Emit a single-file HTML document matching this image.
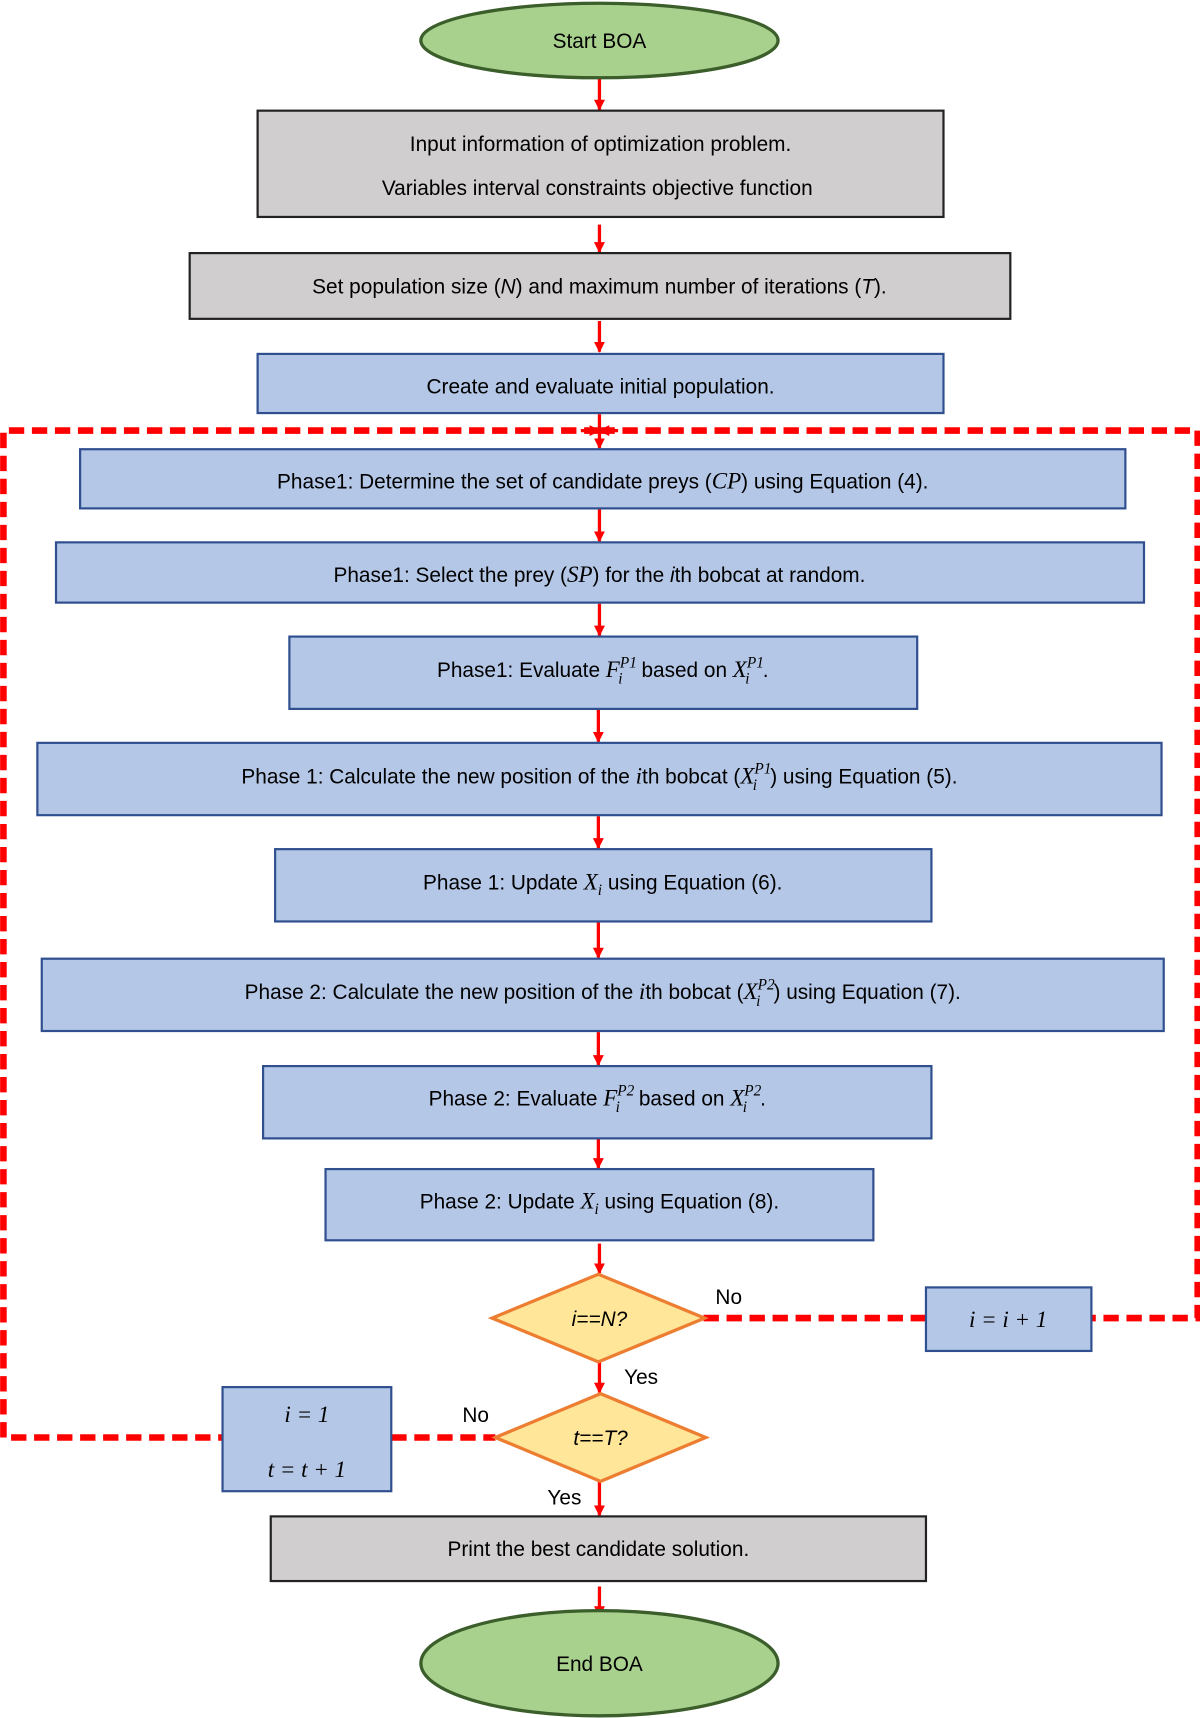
<!DOCTYPE html>
<html><head><meta charset="utf-8"><style>
html,body{margin:0;padding:0;background:#fff;}
svg{display:block;}
text{font-family:"Liberation Sans",sans-serif;font-size:19px;fill:#000;}
.m{font-family:"Liberation Serif",serif;font-style:italic;font-size:21px;}
.s{font-family:"Liberation Serif",serif;font-style:italic;font-size:14px;}
</style></head><body>
<svg width="1200" height="1718" viewBox="0 0 1095 1568" xmlns="http://www.w3.org/2000/svg">
<defs>
<marker id="a" markerWidth="10" markerHeight="10" refX="9" refY="5" orient="auto" markerUnits="userSpaceOnUse">
<path d="M0,0 L10,5 L0,10 z" fill="#f00"/></marker>
</defs>
<!-- dashed loop -->
<g stroke="#f00" stroke-width="6" fill="none" stroke-dasharray="14,7">
<path d="M547,393 H3 V1312 H203"/>
<path d="M357,1312 H452"/>
<path d="M547,393 H1093 V1203 H997"/>
<path d="M845,1203 H640"/>
</g>
<path d="M530,393 L547,393" stroke="#f00" stroke-width="3" marker-end="url(#a)"/>
<path d="M564,393 L547,393" stroke="#f00" stroke-width="3" marker-end="url(#a)"/>
<!-- solid arrows -->
<g stroke="#f00" stroke-width="3" fill="none" marker-end="url(#a)">
<path d="M547,72 V100"/><path d="M547,205 V230"/><path d="M547,293 V321"/>
<path d="M547,378 V409"/><path d="M547,465 V494"/><path d="M547,551 V580"/>
<path d="M546,648 V677"/><path d="M546,745 V774"/><path d="M546,842 V874"/>
<path d="M546,942 V972"/><path d="M546,1040 V1066"/><path d="M547,1135 V1162"/>
<path d="M547,1243 V1271"/><path d="M547,1352 V1383"/><path d="M547,1448 V1475"/>
</g>
<!-- ellipses -->
<ellipse cx="547" cy="37" rx="163" ry="34" fill="#a9d18e" stroke="#3b5e2b" stroke-width="3"/>
<text x="547" y="44" text-anchor="middle">Start BOA</text>
<ellipse cx="547" cy="1518" rx="163" ry="48" fill="#a9d18e" stroke="#3b5e2b" stroke-width="3"/>
<text x="547" y="1525" text-anchor="middle">End BOA</text>
<!-- gray boxes -->
<g fill="#d0cece" stroke="#222" stroke-width="2">
<rect x="235" y="101" width="626" height="97"/>
<rect x="173" y="231" width="749" height="60"/>
<rect x="247" y="1384" width="598" height="59"/>
</g>
<text x="548" y="138" text-anchor="middle">Input information of optimization problem.</text>
<text x="545" y="178" text-anchor="middle">Variables interval  constraints  objective function</text>
<text x="547" y="268" text-anchor="middle">Set population size (<tspan font-style="italic">N</tspan>) and maximum number of iterations (<tspan font-style="italic">T</tspan>).</text>
<text x="546" y="1420" text-anchor="middle">Print the best candidate solution.</text>
<!-- blue boxes -->
<g fill="#b4c7e7" stroke="#2f4f8f" stroke-width="2">
<rect x="235" y="323" width="626" height="54"/>
<rect x="73" y="410" width="954" height="54"/>
<rect x="51" y="495" width="993" height="55"/>
<rect x="264" y="581" width="573" height="66"/>
<rect x="34" y="678" width="1026" height="66"/>
<rect x="251" y="775" width="599" height="66"/>
<rect x="38" y="875" width="1024" height="66"/>
<rect x="240" y="973" width="610" height="66"/>
<rect x="297" y="1067" width="500" height="65"/>
<rect x="845" y="1175" width="151" height="58"/>
<rect x="203" y="1266" width="154" height="95"/>
</g>
<text x="548" y="359" text-anchor="middle">Create and evaluate initial population.</text>
<text x="550" y="446" text-anchor="middle">Phase1: Determine the set of candidate preys (<tspan class="m">CP</tspan>) using Equation (4).</text>
<text x="547" y="531" text-anchor="middle">Phase1: Select the prey (<tspan class="m">SP</tspan>) for the <tspan font-style="italic">i</tspan>th bobcat at random.</text>
<text x="550" y="618" text-anchor="middle">Phase1: Evaluate <tspan class="m">F</tspan><tspan class="s" dy="-9">P1</tspan><tspan class="s" dx="-17" dy="15">i</tspan><tspan dx="12" dy="-6"> based on </tspan><tspan class="m">X</tspan><tspan class="s" dy="-9">P1</tspan><tspan class="s" dx="-17" dy="15">i</tspan><tspan dx="12" dy="-6">.</tspan></text>
<text x="547" y="715" text-anchor="middle">Phase 1: Calculate the new position of the <tspan class="m">i</tspan>th bobcat (<tspan class="m">X</tspan><tspan class="s" dy="-9">P1</tspan><tspan class="s" dx="-17" dy="15">i</tspan><tspan dx="12" dy="-6">) using Equation (5).</tspan></text>
<text x="550" y="812" text-anchor="middle">Phase 1: Update <tspan class="m">X</tspan><tspan class="s" dy="5">i</tspan><tspan dy="-5"> using Equation (6).</tspan></text>
<text x="550" y="912" text-anchor="middle">Phase 2: Calculate the new position of the <tspan class="m">i</tspan>th bobcat (<tspan class="m">X</tspan><tspan class="s" dy="-9">P2</tspan><tspan class="s" dx="-17" dy="15">i</tspan><tspan dx="12" dy="-6">) using Equation (7).</tspan></text>
<text x="545" y="1009" text-anchor="middle">Phase 2: Evaluate <tspan class="m">F</tspan><tspan class="s" dy="-9">P2</tspan><tspan class="s" dx="-17" dy="15">i</tspan><tspan dx="12" dy="-6"> based on </tspan><tspan class="m">X</tspan><tspan class="s" dy="-9">P2</tspan><tspan class="s" dx="-17" dy="15">i</tspan><tspan dx="12" dy="-6">.</tspan></text>
<text x="547" y="1103" text-anchor="middle">Phase 2: Update <tspan class="m">X</tspan><tspan class="s" dy="5">i</tspan><tspan dy="-5"> using Equation (8).</tspan></text>
<text x="920" y="1211" text-anchor="middle" class="m">i = i + 1</text>
<text x="280" y="1298" text-anchor="middle" class="m">i = 1</text>
<text x="280" y="1348" text-anchor="middle" class="m">t = t + 1</text>
<!-- diamonds -->
<g fill="#ffe699" stroke="#ed7d31" stroke-width="3">
<path d="M546,1163 L643,1203 L546,1243 L449,1203 z"/>
<path d="M548,1272 L644,1312 L548,1352 L452,1312 z"/>
</g>
<text x="547" y="1210" text-anchor="middle" font-style="italic">i==N?</text>
<text x="548" y="1319" text-anchor="middle" font-style="italic">t==T?</text>
<text x="665" y="1190" text-anchor="middle">No</text>
<text x="434" y="1298" text-anchor="middle">No</text>
<text x="585" y="1263" text-anchor="middle">Yes</text>
<text x="515" y="1373" text-anchor="middle">Yes</text>
</svg>
</body></html>
